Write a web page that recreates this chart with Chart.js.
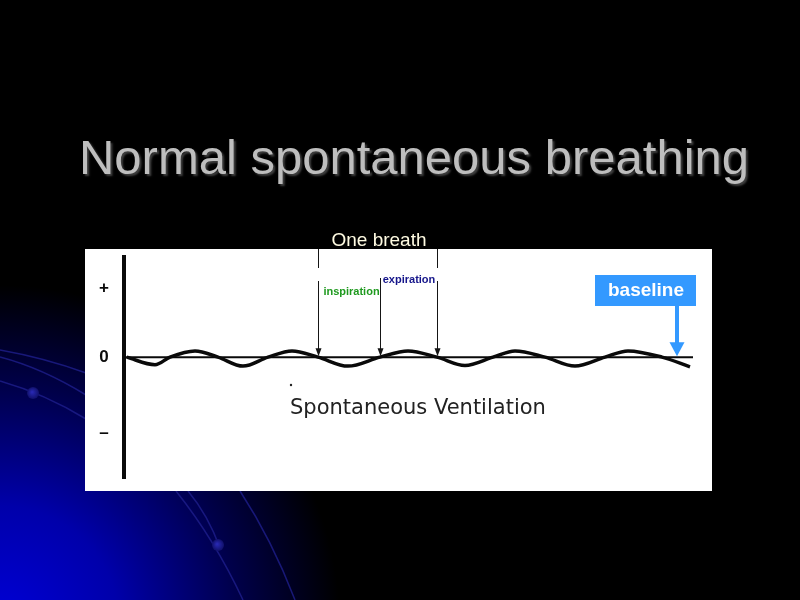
<!DOCTYPE html>
<html>
<head>
<meta charset="utf-8">
<style>
html,body{margin:0;padding:0;background:#000;overflow:hidden}
#wrap{width:800px;height:600px;position:relative}
canvas{display:block}
</style>
<script src="https://cdn.jsdelivr.net/npm/chart.js@4.4.1/dist/chart.umd.min.js"></script>
</head>
<body>
<div id="wrap"><canvas id="c" width="800" height="600"></canvas></div>
<script>
// ---- data ----
const titleText = 'Normal spontaneous breathing';
const waveTime     = [0.27, 3.1, 4.6, 7.1, 9.4, 11.9, 14.4, 16.8, 19.4, 22.4, 25.6, 28.4, 31.3, 34.1, 36.9, 39.1, 42.1, 45.1, 48.1, 50.4, 53.8, 56.6];
const wavePressure = [0, -0.11, 0, 0.09, 0, -0.13, 0, 0.09, 0, -0.13, 0, 0.09, 0, -0.12, 0, 0.09, 0, -0.13, 0, 0.09, 0, -0.14];
const baselineTime = [0, 56.9];
const baselinePressure = [0, 0];
const yTickValues = [1, 0, -1.1];
const yTickLabels = ['+', '0', '\u2013'];
const breathMarks = [19.4, 25.6, 31.3];      // inspiration start, expiration start, breath end
const phaseLabels = ['inspiration', 'expiration'];
const breathLabel = 'One breath';
const baselineLabel = 'baseline';
const baselineArrowTime = 55.3;
const waveformLabel = 'Spontaneous Ventilation';

const toPoints = (xs, ys) => xs.map((x, i) => ({x, y: ys[i]}));

const backgroundPlugin = {
  id: 'slideBackground',
  beforeDraw(chart) {
    const ctx = chart.ctx, W = chart.width, H = chart.height, a = chart.chartArea;
    ctx.save();
    ctx.fillStyle = '#000';
    ctx.fillRect(0, 0, W, H);
    const g = ctx.createRadialGradient(0, 625, 0, 0, 625, 340);
    g.addColorStop(0, '#0000d8');
    g.addColorStop(0.35, '#0000aa');
    g.addColorStop(0.7, '#00004a');
    g.addColorStop(1, '#000000');
    ctx.fillStyle = g;
    ctx.fillRect(0, 0, W, H);
    // decorative arcs
    ctx.strokeStyle = 'rgba(30,30,140,0.8)';
    ctx.lineWidth = 1.5;
    const curves = [
      [0, 350, 45, 358, 86, 373],
      [0, 357, 42, 368, 86, 395],
      [0, 381, 45, 394, 86, 419],
      [176, 491, 215, 540, 243, 600],
      [188, 491, 208, 515, 220, 548],
      [240, 491, 272, 540, 295, 600]
    ];
    curves.forEach(c => {
      ctx.beginPath(); ctx.moveTo(c[0], c[1]); ctx.quadraticCurveTo(c[2], c[3], c[4], c[5]); ctx.stroke();
    });
    [[33, 393], [218, 545]].forEach(d => {
      const rg = ctx.createRadialGradient(d[0] - 1, d[1] - 1, 0, d[0], d[1], 6);
      rg.addColorStop(0, '#2a2ab8'); rg.addColorStop(1, '#10106a');
      ctx.fillStyle = rg;
      ctx.beginPath(); ctx.arc(d[0], d[1], 6, 0, Math.PI * 2); ctx.fill();
    });
    // white figure panel
    ctx.fillStyle = '#ffffff';
    ctx.fillRect(a.left - 39, a.top - 8, (a.right + 8) - (a.left - 39), (a.bottom + 13) - (a.top - 8));
    // slide title
    ctx.font = '49px "Liberation Sans", Arial, sans-serif';
    ctx.textAlign = 'center'; ctx.textBaseline = 'alphabetic';
    ctx.shadowColor = 'rgba(70,70,70,0.9)';
    ctx.shadowOffsetX = 2; ctx.shadowOffsetY = 2; ctx.shadowBlur = 2;
    ctx.fillStyle = '#bebebe';
    ctx.fillText(titleText, 414, 174);
    ctx.restore();
  }
};

function arrowDown(ctx, x, yTop, yTip, half, headLen, width) {
  ctx.lineWidth = width;
  ctx.beginPath(); ctx.moveTo(x, yTop); ctx.lineTo(x, yTip - headLen + 1); ctx.stroke();
  ctx.beginPath();
  ctx.moveTo(x - half, yTip - headLen); ctx.lineTo(x + half, yTip - headLen); ctx.lineTo(x, yTip);
  ctx.closePath(); ctx.fill();
}

const annotationPlugin = {
  id: 'breathAnnotations',
  afterDraw(chart) {
    const ctx = chart.ctx, xs = chart.scales.x, ys = chart.scales.y;
    const y0 = ys.getPixelForValue(0);
    const px = breathMarks.map(t => Math.round(xs.getPixelForValue(t)) + 0.5);
    ctx.save();
    ctx.strokeStyle = '#151515'; ctx.fillStyle = '#151515';
    // bracket ticks for "one breath"
    ctx.lineWidth = 1;
    [px[0], px[2]].forEach(p => { ctx.beginPath(); ctx.moveTo(p, 249); ctx.lineTo(p, 268); ctx.stroke(); });
    arrowDown(ctx, px[0], 281, y0 - 1, 3, 8, 1);
    arrowDown(ctx, px[1], 278, y0 - 1, 3, 8, 1);
    arrowDown(ctx, px[2], 281, y0 - 1, 3, 8, 1);
    ctx.textAlign = 'center'; ctx.textBaseline = 'middle';
    ctx.font = '19px "Liberation Sans", Arial, sans-serif';
    ctx.fillStyle = '#fffbe2';
    ctx.fillText(breathLabel, (px[0] + px[2]) / 2 + 1, 241);
    ctx.font = 'bold 11px "Liberation Sans", Arial, sans-serif';
    ctx.fillStyle = '#1f9a1f';
    ctx.fillText(phaseLabels[0], (px[0] + px[1]) / 2 + 2, 292);
    ctx.fillStyle = '#15158a';
    ctx.fillText(phaseLabels[1], (px[1] + px[2]) / 2, 280);
    // baseline call-out
    const bx = Math.round(xs.getPixelForValue(baselineArrowTime));
    ctx.fillStyle = '#3399ff'; ctx.strokeStyle = '#3399ff';
    ctx.fillRect(595, 275, 101, 31);
    arrowDown(ctx, bx, 306, y0 - 1, 7.5, 14, 4);
    ctx.fillStyle = '#ffffff';
    ctx.font = 'bold 19px "Liberation Sans", Arial, sans-serif';
    ctx.fillText(baselineLabel, 646, 291);
    // waveform caption
    ctx.textAlign = 'left'; ctx.textBaseline = 'alphabetic';
    ctx.fillStyle = '#222222';
    ctx.font = '21px "DejaVu Sans", Verdana, sans-serif';
    ctx.fillText(waveformLabel, 290, 414);
    ctx.beginPath(); ctx.arc(291, 385, 1.2, 0, Math.PI * 2); ctx.fill();
    ctx.restore();
  }
};

new Chart(document.getElementById('c'), {
  type: 'line',
  data: {
    datasets: [
      {
        label: 'pressure',
        data: toPoints(waveTime, wavePressure),
        borderColor: '#0a0a0a',
        borderWidth: 3.5,
        pointRadius: 0,
        cubicInterpolationMode: 'monotone',
        fill: false
      },
      {
        label: 'baseline',
        data: toPoints(baselineTime, baselinePressure),
        borderColor: '#0a0a0a',
        borderWidth: 2,
        pointRadius: 0,
        fill: false
      }
    ]
  },
  options: {
    responsive: false,
    animation: false,
    devicePixelRatio: 1,
    layout: { padding: { left: 0, right: 96, top: 257, bottom: 122 } },
    plugins: {
      legend: { display: false },
      tooltip: { enabled: false },
      title: { display: false }
    },
    scales: {
      x: { type: 'linear', min: 0, max: 58, display: false },
      y: {
        type: 'linear', min: -1.75, max: 1.45,
        afterFit(scale) { scale.width = 124; },
        afterBuildTicks(scale) { scale.ticks = yTickValues.map(v => ({ value: v })); },
        grid: { display: false, drawTicks: false },
        border: { display: true, color: '#0a0a0a', width: 4 },
        ticks: {
          autoSkip: false,
          crossAlign: 'center',
          padding: 15,
          color: '#0a0a0a',
          font: { family: '"Liberation Sans", Arial, sans-serif', size: 17, weight: 'bold' },
          callback: (v, i) => yTickLabels[i]
        }
      }
    }
  },
  plugins: [backgroundPlugin, annotationPlugin]
});
</script>
</body>
</html>
